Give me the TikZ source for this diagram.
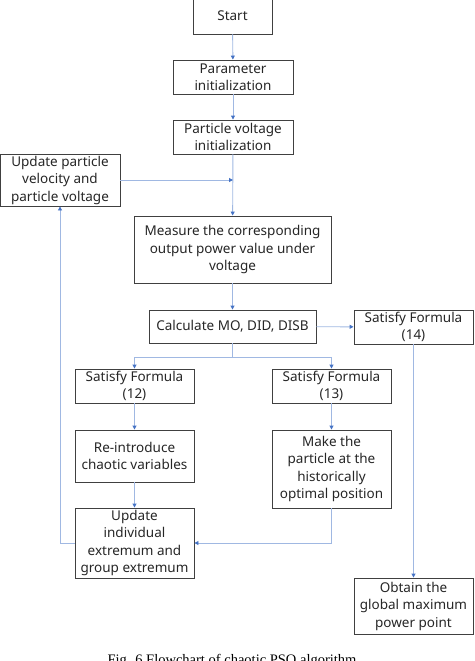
\documentclass[tikz,border=0pt]{standalone}
\usepackage{fontspec}
\setmainfont{Noto Sans}
\newfontfamily\capfont{Liberation Serif}
\usepackage{tikz}
\usetikzlibrary{arrows.meta}
\definecolor{boxgray}{RGB}{64,64,64}
\definecolor{lineblue}{RGB}{160,184,226}
\definecolor{tipblue}{RGB}{68,114,196}

\begin{document}
\begin{tikzpicture}[x=1pt,y=-1pt,
  box/.style={draw=boxgray, line width=0.9pt, inner sep=0pt, align=center,
    text=black!85, font=\fontsize{13.5}{17.5}\selectfont},
  flow/.style={draw=lineblue, line width=0.9pt,
    -{Triangle[length=4pt,width=4pt,color=tipblue]}},
  plain/.style={draw=lineblue, line width=0.9pt}]

\useasboundingbox (0,0) rectangle (474,661);

% Main column
\node[box, minimum width=79pt, minimum height=36pt] (start) at (232.5,16) {Start};
\node[box, minimum width=120pt, minimum height=34pt] (param) at (233,77) {Parameter\\initialization};
\node[box, minimum width=120pt, minimum height=34pt] (pvinit) at (233,137) {Particle voltage\\initialization};
\node[box, minimum width=197pt, minimum height=67pt] (measure) at (232.5,249.5) {Measure the corresponding\\output power value under\\voltage};
\node[box, minimum width=167pt, minimum height=33pt] (calc) at (232.5,326.5) {Calculate MO, DID, DISB};

% Left loop box
\node[box, minimum width=120pt, minimum height=52pt] (update) at (60,180) {Update particle\\velocity and\\particle voltage};

% Branches
\node[box, minimum width=119pt, minimum height=34pt] (sat14) at (413.5,327) {Satisfy Formula\\(14)};
\node[box, minimum width=119pt, minimum height=34pt] (sat12) at (134.5,386) {Satisfy Formula\\(12)};
\node[box, minimum width=119pt, minimum height=34pt] (sat13) at (331.5,386) {Satisfy Formula\\(13)};
\node[box, minimum width=119pt, minimum height=52pt] (reintro) at (134.5,456) {Re-introduce\\chaotic variables};
\node[box, minimum width=119pt, minimum height=78pt] (make) at (331.5,469) {Make the\\particle at the\\historically\\optimal position};
\node[box, minimum width=119pt, minimum height=70pt] (updind) at (134.5,543) {Update\\individual\\extremum and\\group extremum};
\node[box, minimum width=119pt, minimum height=56pt] (obtain) at (413.5,606) {Obtain the\\global maximum\\power point};

% Caption
\node[anchor=base, inner sep=0pt, font=\capfont\fontsize{14.5}{17}\selectfont] (caption) at (232,664) {Fig. 6 Flowchart of chaotic PSO algorithm};

% Connectors
\coordinate (merge) at (pvinit.south |- update.east);
\coordinate (split) at (232.5,357);

\draw[flow] (start) -- (param);
\draw[flow] (param) -- (pvinit);
\draw[flow] (pvinit) -- (measure);
\draw[flow] (update.east) -- (merge);
\draw[flow] (measure) -- (calc);
\draw[flow] (calc) -- (sat14);
\draw[plain] (calc.south) -- (split);
\draw[flow] (split) -| (sat12.north);
\draw[flow] (split) -| (sat13.north);
\draw[flow] (sat12) -- (reintro);
\draw[flow] (reintro) -- (updind);
\draw[flow] (sat13) -- (make);
\draw[flow] (make.south) |- (updind.east);
\draw[flow] (updind.west) -| (update.south);
\draw[flow] (sat14) -- (obtain);

\end{tikzpicture}
\end{document}
